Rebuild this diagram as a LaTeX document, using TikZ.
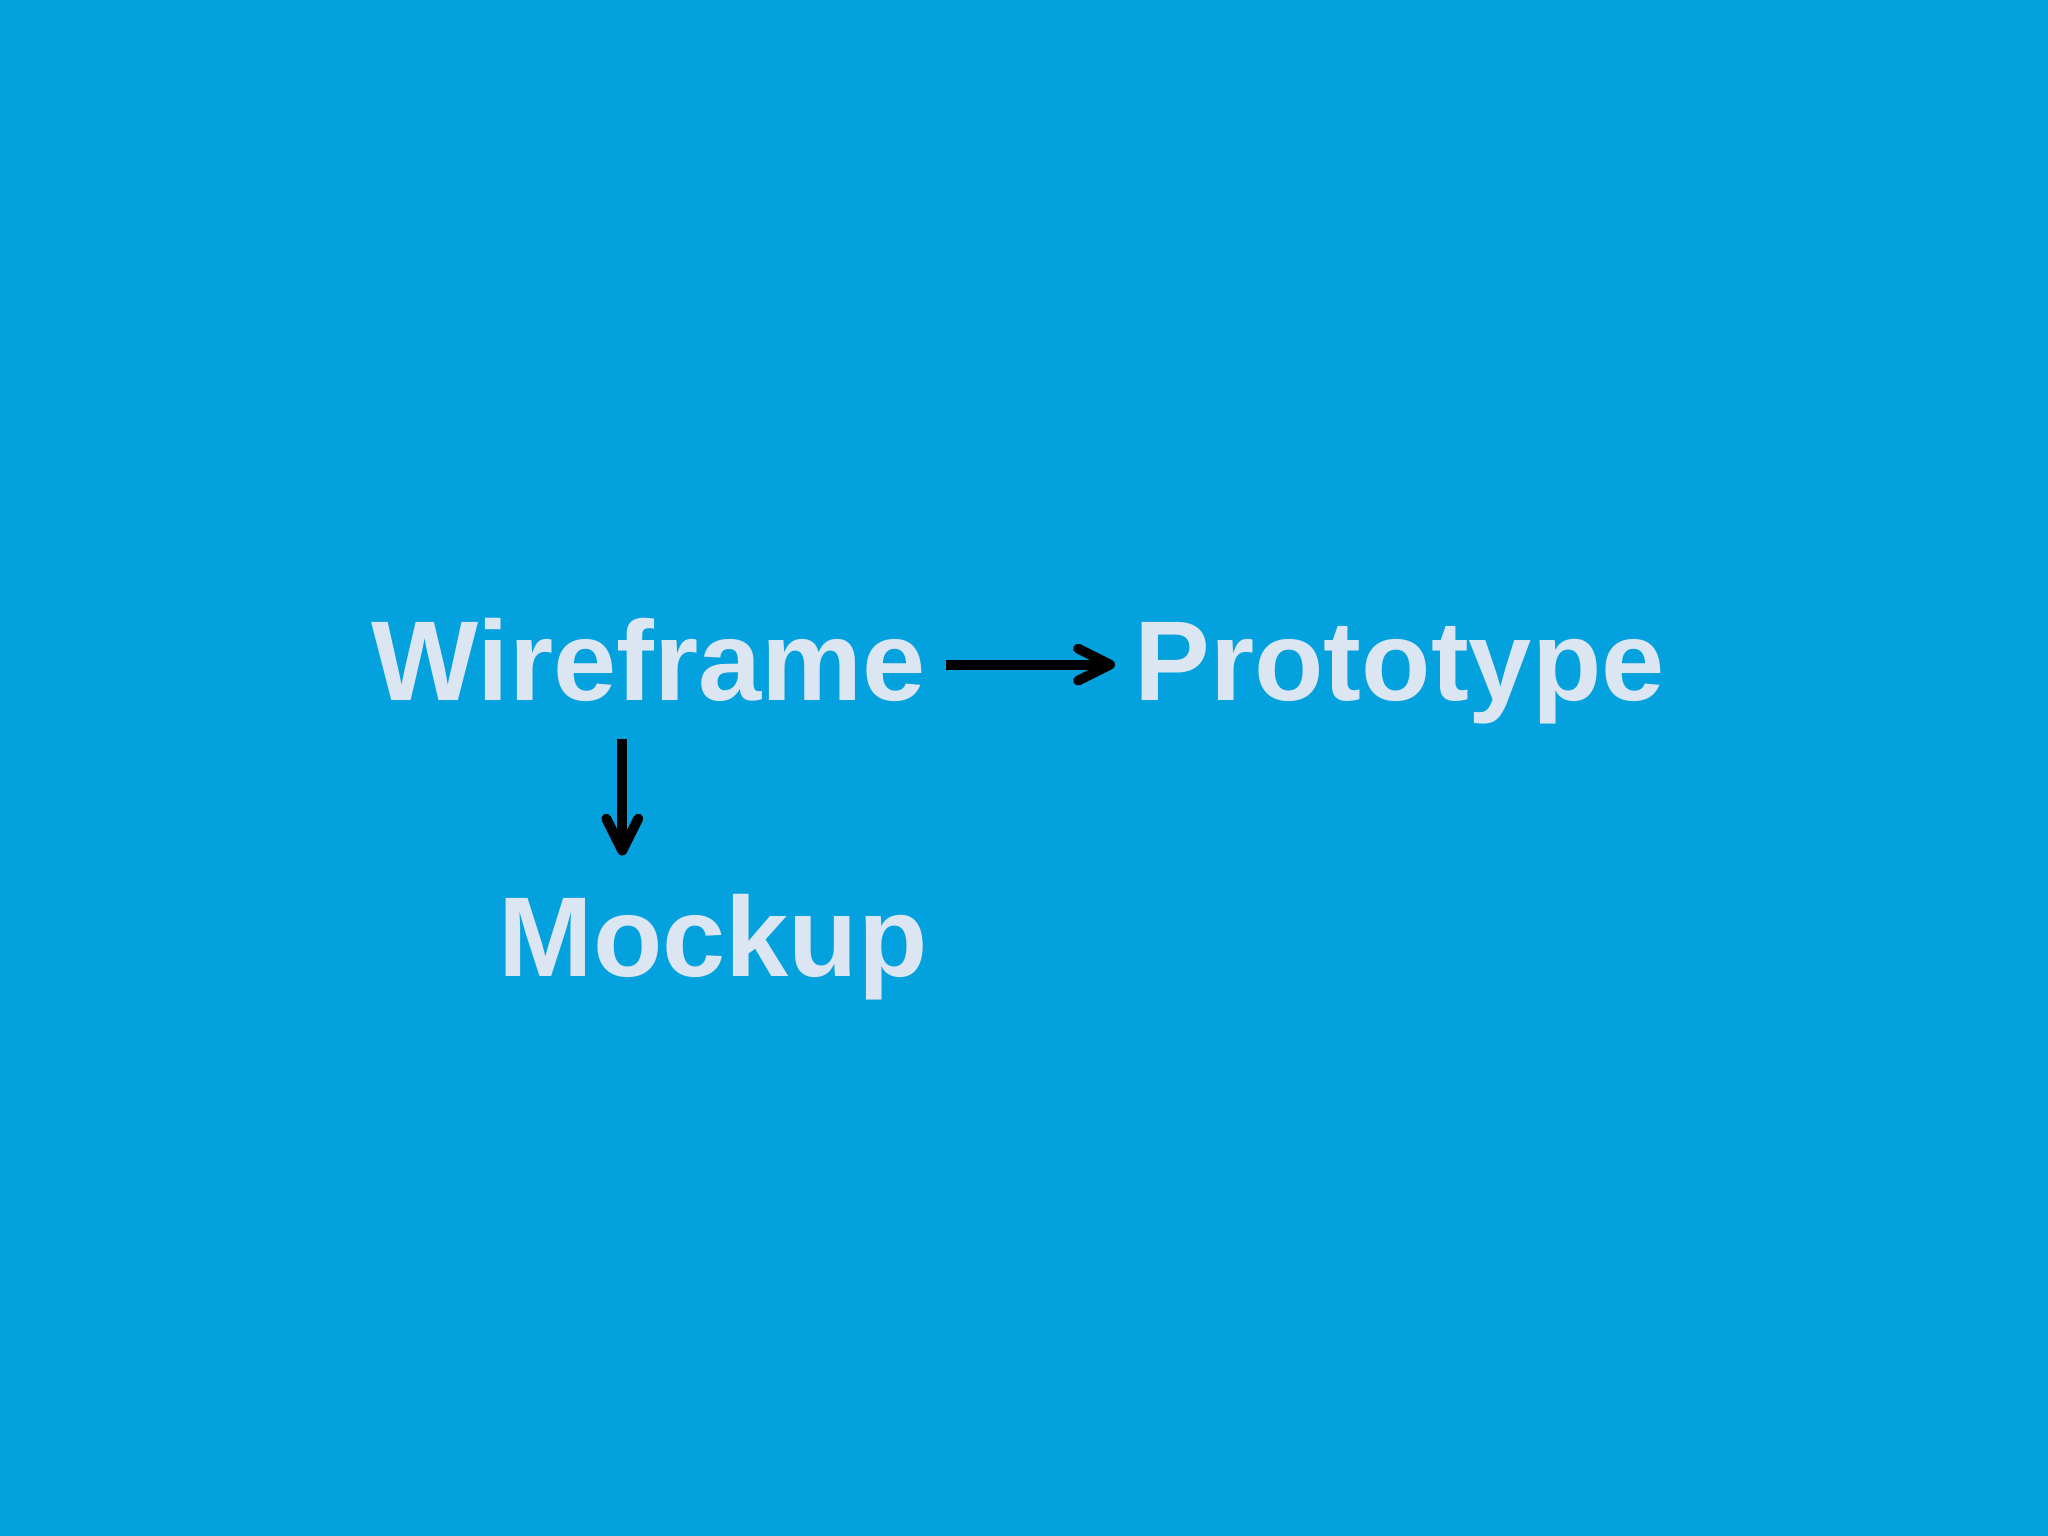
\documentclass[tikz,border=0pt]{standalone}
\usepackage{fontspec}
\setmainfont{Liberation Sans}
\usetikzlibrary{arrows.meta}

\definecolor{bgblue}{HTML}{03A2DE}
\definecolor{wordgrey}{HTML}{DCE6F2}

\tikzset{
  word/.style={text=wordgrey, font=\bfseries\fontsize{32.3}{38}\selectfont,
    text height=20.7pt, text depth=0pt, inner xsep=1.9mm, inner ysep=3.7mm, anchor=base west},
  arr/.style={line width=2.8pt, -{Straight Barb[round,length=3.2mm,width=3.2mm]}}
}

\begin{document}
\begin{tikzpicture}
  \fill[bgblue] (0,0) rectangle (20.48,15.36);
  \useasboundingbox (0,0) rectangle (20.48,15.36);

  \node[word] (wire) at (3.52,8.35) {Wireframe};
  \node[word] (proto) at (11.15,8.35) {Prototype};
  \node[word] (mock) at (4.79,5.59) {Mockup};

  \draw[arr] (wire.east) -- (proto.west);
  \draw[arr] ([xshift=-2.65mm]wire.south) -- ([xshift=-2.65mm,yshift=1.1mm]wire.south |- mock.north);
\end{tikzpicture}
\end{document}
